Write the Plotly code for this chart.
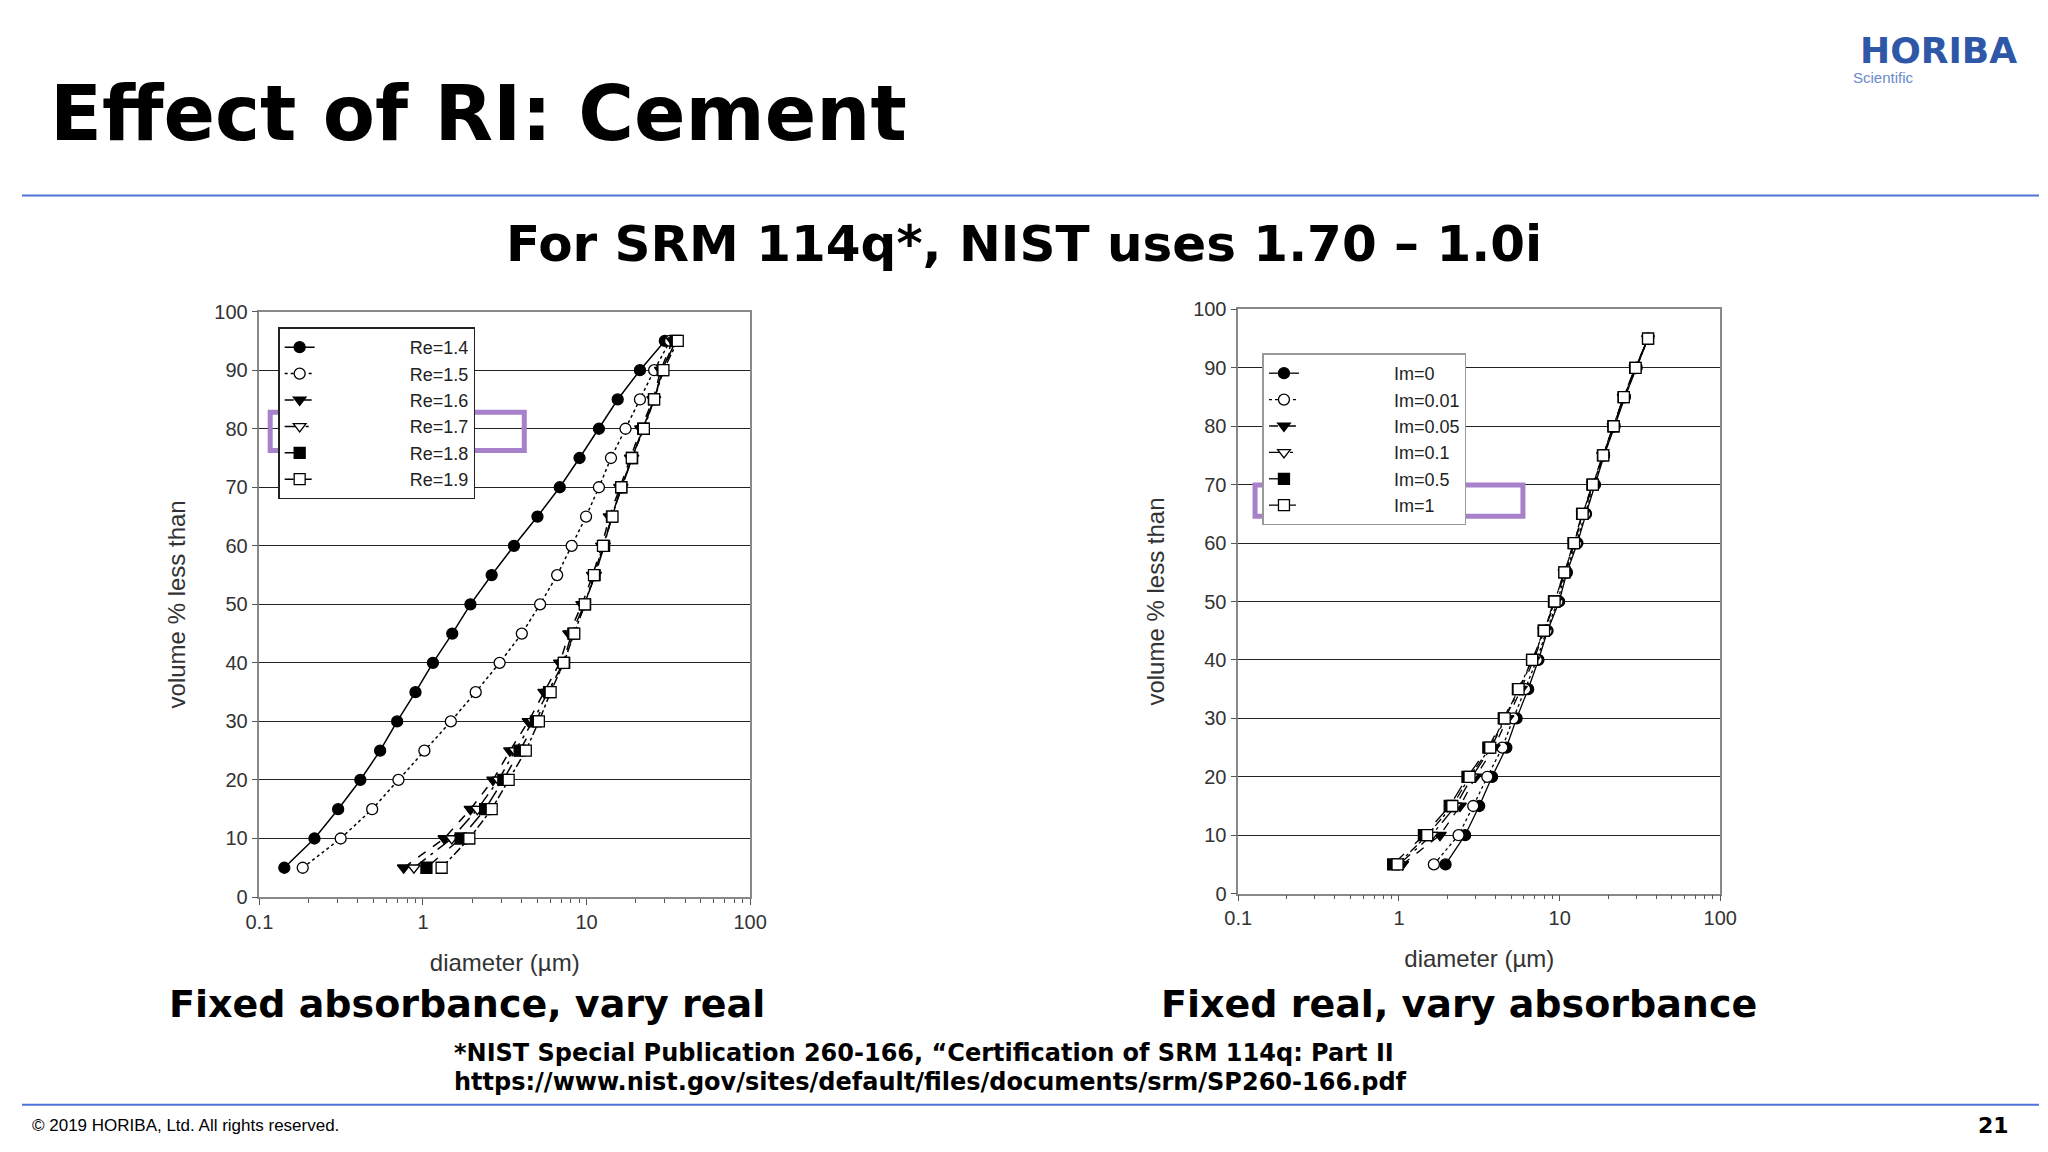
import plotly.graph_objects as go

pct = [5, 10, 15, 20, 25, 30, 35, 40, 45, 50, 55, 60, 65, 70, 75, 80, 85, 90, 95]

# left: fixed absorbance, vary real part
re_names = ["Re=1.4", "Re=1.5", "Re=1.6", "Re=1.7", "Re=1.8", "Re=1.9"]
re_d = [
    [0.142, 0.217, 0.303, 0.414, 0.547, 0.695, 0.90, 1.15, 1.51, 1.95, 2.63, 3.60, 5.01, 6.86, 9.06, 11.9, 15.5, 21.2, 30.1],
    [0.184, 0.314, 0.489, 0.708, 1.02, 1.48, 2.10, 2.94, 4.02, 5.20, 6.61, 8.11, 9.93, 11.9, 14.1, 17.3, 21.2, 25.9, 32.4],
    [0.762, 1.35, 1.95, 2.68, 3.40, 4.41, 5.50, 6.86, 7.81, 9.39, 10.9, 12.4, 13.8, 16.0, 18.6, 21.5, 25.5, 28.4, 33.6],
    [0.88, 1.5, 2.15, 2.9, 3.65, 4.7, 5.8, 7.2, 8.1, 9.7, 11.3, 12.8, 14.2, 16.4, 19.1, 22.0, 26.0, 29.0, 34.5],
    [1.05, 1.7, 2.4, 3.1, 3.9, 4.9, 5.9, 7.3, 8.3, 9.8, 11.2, 12.8, 14.3, 16.3, 19.0, 22.2, 25.8, 29.2, 35.0],
    [1.30, 1.92, 2.63, 3.34, 4.25, 5.11, 6.03, 7.25, 8.41, 9.75, 11.1, 12.6, 14.4, 16.3, 18.9, 22.4, 25.9, 29.5, 36.1],
]

# right: fixed real part, vary absorbance
im_names = ["Im=0", "Im=0.01", "Im=0.05", "Im=0.1", "Im=0.5", "Im=1"]
im_d = [
    [1.95, 2.58, 3.16, 3.80, 4.66, 5.40, 6.37, 7.38, 8.41, 9.93, 11.1, 12.9, 14.6, 16.6, 18.9, 22.0, 25.5, 30.1, 35.5],
    [1.65, 2.35, 2.9, 3.55, 4.4, 5.15, 6.1, 7.2, 8.3, 9.7, 10.9, 12.7, 14.4, 16.4, 18.8, 21.8, 25.3, 30.0, 35.5],
    [1.05, 1.8, 2.4, 3.0, 3.9, 4.75, 5.75, 6.9, 8.1, 9.4, 10.8, 12.4, 14.0, 16.2, 18.7, 21.7, 25.1, 29.7, 35.5],
    [1.0, 1.6, 2.25, 2.85, 3.75, 4.6, 5.6, 6.8, 8.0, 9.3, 10.7, 12.3, 13.9, 16.1, 18.6, 21.6, 25.0, 29.6, 35.5],
    [0.92, 1.43, 2.07, 2.67, 3.60, 4.49, 5.50, 6.73, 7.95, 9.22, 10.7, 12.2, 13.8, 16.0, 18.6, 21.6, 25.0, 29.5, 35.5],
    [0.98, 1.5, 2.15, 2.75, 3.7, 4.55, 5.55, 6.75, 8.0, 9.3, 10.7, 12.3, 13.9, 16.1, 18.7, 21.7, 25.1, 29.7, 35.5],
]

symbols = ["circle", "circle", "triangle-down", "triangle-down", "square", "square"]
fills = ["black", "white", "black", "white", "black", "white"]
dashes = ["solid", "dot", "dash", "longdashdot", "longdash", "dashdot"]
pad = "\u2003" * 5  # pushes legend text to the right like the original

fig = go.Figure()
for i in range(6):
    fig.add_trace(go.Scatter(
        x=re_d[i], y=pct, name=pad + re_names[i], xaxis="x", yaxis="y", legend="legend",
        mode="lines+markers",
        line=dict(color="black", width=1.5, dash=dashes[i]),
        marker=dict(symbol=symbols[i], size=11, color=fills[i], line=dict(color="black", width=1.3)),
    ))
for i in range(6):
    fig.add_trace(go.Scatter(
        x=im_d[i], y=pct, name=pad + im_names[i], xaxis="x2", yaxis="y2", legend="legend2",
        mode="lines+markers",
        line=dict(color="black", width=1.3, dash=dashes[i]),
        marker=dict(symbol=symbols[i], size=11, color=fills[i], line=dict(color="black", width=1.3)),
    ))

minor_vals = [m * 10 ** e for e in (-1, 0, 1) for m in range(2, 10)]
tickfont = dict(family="Liberation Sans", size=20, color="#333")


def xax(domain):
    return dict(type="log", domain=domain, range=[-1, 2], tickvals=[0.1, 1, 10, 100],
                ticktext=["0.1", "1", "10", "100"], ticks="outside", ticklen=6, tickcolor="#555",
                minor=dict(tickvals=minor_vals, ticks="outside", ticklen=4, tickcolor="#555"),
                showgrid=False, showline=True, linecolor="#888", linewidth=1.5, mirror=True,
                tickfont=tickfont,
                title=dict(text="diameter (µm)", font=dict(family="Liberation Sans", size=24, color="#333"),
                           standoff=22))


def yax(domain, anchor):
    return dict(domain=domain, range=[0, 100], dtick=10, anchor=anchor, ticks="outside", ticklen=6,
                tickcolor="#555", showgrid=True, gridcolor="#222", gridwidth=1.3,
                showline=True, linecolor="#888", linewidth=1.5, mirror=True, tickfont=tickfont,
                title=dict(text="volume % less than", font=dict(family="Liberation Sans", size=24, color="#333"),
                           standoff=22))


legfont = dict(family="Liberation Sans", size=18, color="#222")
fig.update_layout(
    width=2048, height=1152, margin=dict(l=0, r=0, t=0, b=0),
    paper_bgcolor="white", plot_bgcolor="white", showlegend=True,
    xaxis=dict(xax([0.1177, 0.361]), anchor="y"),
    yaxis=yax([0.223, 0.741], "x"),
    xaxis2=dict(xax([0.603, 0.842]), anchor="y2"),
    yaxis2=yax([0.226, 0.743], "x2"),
    legend=dict(x=0.127, y=0.727, xanchor="left", yanchor="top", bgcolor="white",
                bordercolor="#222", borderwidth=1.5, font=legfont, tracegroupgap=0),
    legend2=dict(x=0.615, y=0.704, xanchor="left", yanchor="top", bgcolor="white",
                 bordercolor="#999", borderwidth=1.5, font=legfont, tracegroupgap=0),
)

# highlight boxes
fig.add_shape(type="rect", xref="paper", yref="paper", x0=252 / 2048, x1=510 / 2048,
              y0=1 - 440 / 1152, y1=1 - 401 / 1152, line=dict(color="#a781c9", width=5))
fig.add_shape(type="rect", xref="paper", yref="paper", x0=1252 / 2048, x1=1524 / 2048,
              y0=1 - 507 / 1152, y1=1 - 475 / 1152, line=dict(color="#a781c9", width=5))
# blue rules
for yy in (180, 1107):
    fig.add_shape(type="line", xref="paper", yref="paper", x0=0, x1=1, y0=1 - yy / 1152, y1=1 - yy / 1152,
                  line=dict(color="#4f73d6", width=2))

heavy = "DejaVu Sans"


def txt(x, y, s, size, xanchor="left", color="black", family=heavy):
    fig.add_annotation(x=x / 2048, y=1 - y / 1152, xref="paper", yref="paper", text=s, showarrow=False,
                       xanchor=xanchor, yanchor="middle", font=dict(family=family, size=size, color=color))


txt(26, 96, "<b>Effect of RI: Cement</b>", 76)
txt(1017, 229, "<b>For SRM 114q*, NIST uses 1.70 – 1.0i</b>", 50, "center")
txt(452, 1004, "<b>Fixed absorbance, vary real</b>", 38, "center")
txt(1459, 1004, "<b>Fixed real, vary absorbance</b>", 38, "center")
txt(437, 1054, "<b>*NIST Special Publication 260-166, “Certification of SRM 114q: Part II</b>", 24)
txt(437, 1084, "<b>https://www.nist.gov/sites/default/files/documents/srm/SP260-166.pdf</b>", 24)
txt(8, 1128, "© 2019 HORIBA, Ltd. All rights reserved.", 17, family="Liberation Sans")
txt(2020, 1128, "<b>21</b>", 22, "right")
txt(2028, 32, "<b>HORIBA</b>", 36, "right", "#2f57a8")
txt(1857, 60, "Scientific", 15, "left", "#6a8ac8", "Liberation Sans")

fig.write_html("out.html")
